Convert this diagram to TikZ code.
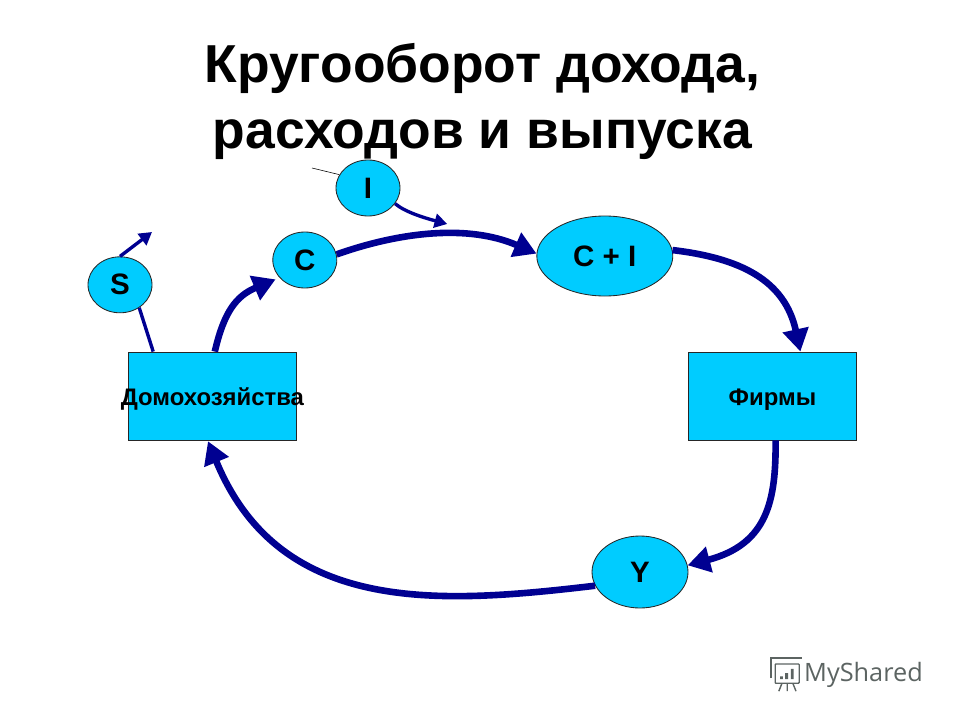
\documentclass[tikz,border=0pt]{standalone}
\usepackage{fontspec}
\setmainfont{Liberation Sans}
\newfontfamily\logofont{Open Sans}
\usetikzlibrary{arrows.meta,shapes.geometric}
\definecolor{cyanfill}{RGB}{0,204,255}
\definecolor{arrowblue}{RGB}{0,0,145}
\definecolor{logogray}{RGB}{92,100,98}
\tikzset{
	box/.style={draw=black!85,fill=cyanfill,line width=.6pt,minimum width=4.22cm,minimum height=2.2cm,inner sep=0pt},
	boxtext/.style={font=\bfseries\fontsize{17}{20}\selectfont},
	oval/.style={draw=black!85,fill=cyanfill,ellipse,line width=.6pt,inner sep=0pt,font=\bfseries\fontsize{21}{24}\selectfont},
	flow/.style={draw=arrowblue,line width=4.7pt,-{Triangle[length=16pt,width=18pt]}},
	leak/.style={draw=arrowblue,line width=2.4pt,-{Triangle[length=9pt,width=10pt]}}
}
\begin{document}
\begin{tikzpicture}
	\useasboundingbox (0,0) rectangle (24,18);
	\node [font=\bfseries\fontsize{38}{47}\selectfont,align=center] (title) at (12.06,15.46) {Кругооборот дохода,\\расходов и выпуска};
	\node [box] (dom) at (5.31,8.1) {};
	\node [boxtext] (domtext) at (5.31,8.02) {Домохозяйства};
	\node [box] (firm) at (19.31,8.1) {};
	\node [boxtext] (firmtext) at (19.31,8.02) {Фирмы};
	\node [oval,minimum width=1.6cm,minimum height=1.4cm] (S) at (3,10.88) {S};
	\node [oval,minimum width=1.6cm,minimum height=1.4cm] (C) at (7.62,11.5) {C};
	\node [oval,minimum width=1.6cm,minimum height=1.4cm] (I) at (9.2,13.3) {I};
	\node [oval,minimum width=3.4cm,minimum height=2cm] (CI) at (15.12,11.6) {C + I};
	\node [oval,minimum width=2.4cm,minimum height=1.8cm] (Y) at (16,3.7) {Y};
	\coordinate (Send) at (3.8,12.2);
	\coordinate (Iend) at (11.18,12.4);
	\coordinate (Iline) at (7.8,13.8);
	% main loop
	\draw[flow,shorten >=3pt] ([xshift=.06cm]dom.north) .. controls (5.6,10.2) and (5.9,10.6) .. (C.215);
	\draw[flow] (C.10) .. controls (10,12.2) and (11.7,12.4) .. (CI.178);
	\draw[flow] (CI.5) .. controls (18.5,11.55) and (19.62,11) .. ([xshift=.7cm]firm.north);
	\draw[flow] ([xshift=.08cm]firm.south) .. controls (19.4,5.5) and (19.2,4.4) .. (Y.8);
	\draw[flow] (Y.197) .. controls (11,2.9) and (7,2.6) .. ([xshift=-.11cm,yshift=-.02cm]dom.south);
	% leakage and injection
	\draw[leak,-] ([xshift=-1.48cm]dom.north) -- (S.-50);
	\draw[leak] (S.90) -- (Send);
	\draw[leak] (I.-30) .. controls (10.12,12.7) and (10.62,12.55) .. (Iend);
	\draw[black,line width=.4pt] (I.155) -- (Iline);
	% logo
	\node [text=logogray,font=\logofont\fontsize{18}{21}\selectfont,anchor=west] (logo) at (19.98,1.12) {MyShared};
	\draw[logogray,line width=1pt,rounded corners=.5pt] (19.38,.92) rectangle (19.98,1.4);
	\draw[logogray,line width=1pt] (19.27,1.05) -- (19.27,1.55) -- (20.05,1.55);
	\draw[logogray,line width=1pt] (19.55,.92) -- (19.47,.72) (19.68,.92) -- (19.68,.72) (19.82,.92) -- (19.9,.72);
	\fill[logogray] (19.5,1.02) rectangle (19.57,1.09) (19.63,1.02) rectangle (19.7,1.17) (19.77,1.02) rectangle (19.84,1.28);
\end{tikzpicture}
\end{document}
